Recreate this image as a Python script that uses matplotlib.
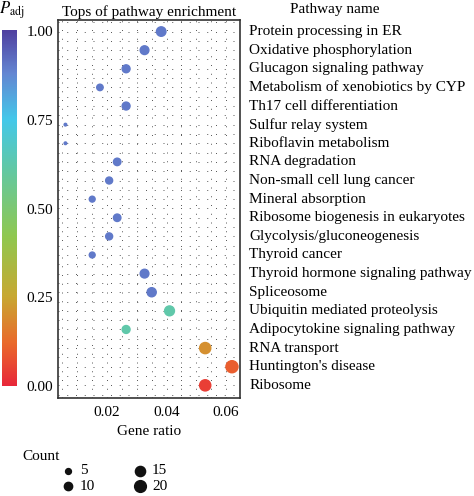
import numpy as np
import matplotlib.pyplot as plt
from matplotlib.colors import LinearSegmentedColormap

plt.rcParams['font.family'] = ['Liberation Serif', 'DejaVu Serif']
plt.rcParams['mathtext.fontset'] = 'stix'

# data, top to bottom
pathways = ['Protein processing in ER', 'Oxidative phosphorylation', 'Glucagon signaling pathway',
            'Metabolism of xenobiotics by CYP', 'Th17 cell differentiation', 'Sulfur relay system',
            'Riboflavin metabolism', 'RNA degradation', 'Non-small cell lung cancer',
            'Mineral absorption', 'Ribosome biogenesis in eukaryotes', 'Glycolysis/gluconeogenesis',
            'Thyroid cancer', 'Thyroid hormone signaling pathway', 'Spliceosome',
            'Ubiquitin mediated proteolysis', 'Adipocytokine signaling pathway', 'RNA transport',
            "Huntington's disease", 'Ribosome']
gene_ratio = [0.0382, 0.0326, 0.0264, 0.0176, 0.0264, 0.0060, 0.0060, 0.0234, 0.0207, 0.0150,
              0.0234, 0.0207, 0.0150, 0.0326, 0.0350, 0.0410, 0.0264, 0.0530, 0.0620, 0.0530]
counts = [13, 11, 9, 6, 9, 1, 1, 8, 7, 5, 8, 7, 5, 11, 12, 14, 9, 18, 21, 18]
padj = [0.90, 0.90, 0.90, 0.90, 0.90, 0.90, 0.90, 0.90, 0.90, 0.90,
        0.90, 0.90, 0.90, 0.90, 0.90, 0.62, 0.62, 0.20, 0.10, 0.04]

cmap = LinearSegmentedColormap.from_list('padj', [
    (0.0, '#e8283a'), (0.12, '#ea6a2c'), (0.25, '#c8a832'), (0.42, '#90c850'),
    (0.6, '#64c8a0'), (0.75, '#44c8ea'), (0.88, '#6486d2'), (1.0, '#5040a0')])

W, H = 474, 496
fig = plt.figure(figsize=(W / 100, H / 100), dpi=100)

n = len(pathways)
ypos = np.arange(n)[::-1]

ax = fig.add_axes([58 / W, 98 / H, 182 / W, 378 / H])
ax.set_xlim(0.0035, 0.0647)
ax.set_ylim(-0.68, n - 1 + 0.62)
for xv in np.arange(0.005, 0.065, 0.005):
    ax.axvline(xv, color='#555555', lw=0.7, ls=(0, (1, 8)), zorder=0)
for yv in np.arange(-0.5, n, 0.5):
    ax.axhline(yv, color='#555555', lw=0.7, ls=(0, (1, 8)), zorder=0)
ax.scatter(gene_ratio, ypos, s=np.array(counts) * 3.6, c=padj, cmap=cmap, vmin=0, vmax=1, zorder=3)
ax.set_xticks([0.02, 0.04, 0.06])
ax.set_xticklabels(['0.02', '0.04', '0.06'], fontsize=11)
ax.tick_params(axis='x', length=0, pad=6)
ax.set_yticks([])
ax.set_xlabel('Gene ratio', fontsize=11)
ax.set_title('Tops of pathway enrichment', fontsize=11, pad=3)
for sp in ax.spines.values():
    sp.set_linewidth(1.2)
    sp.set_color('#333333')

for y, name in zip(ypos, pathways):
    ax.text(1.05, y, name, transform=ax.get_yaxis_transform(), fontsize=11, va='center', ha='left')
fig.text(335 / W, 1 - 9 / H, 'Pathway name', fontsize=11, ha='center', va='center')

# colour bar
cax = fig.add_axes([2 / W, 101 / H, 15 / W, 375 / H])
grad = np.linspace(0, 1, 256).reshape(-1, 1)
cax.imshow(grad, aspect='auto', cmap=cmap, origin='lower', extent=[0, 1, 0, 1])
cax.set_xlim(0, 1)
cax.set_ylim(-9 / 355, 1 + 11 / 355)
cax.set_xticks([])
cax.yaxis.tick_right()
cax.set_yticks([0, 0.25, 0.5, 0.75, 1.0])
cax.set_yticklabels(['0.00', '0.25', '0.50', '0.75', '1.00'], fontsize=11)
cax.tick_params(axis='y', length=0, pad=7)
for sp in cax.spines.values():
    sp.set_visible(False)
fig.text(12 / W, 1 - 10 / H, r'$P_{\mathrm{adj}}$', fontsize=12, ha='center', va='center')

# size legend
fig.text(22 / W, 1 - 456 / H, 'Count', fontsize=11, va='center')
leg = [(5, 68, 471), (10, 68, 486), (15, 140, 471), (20, 140, 486)]
for c, px, py in leg:
    fig.add_artist(plt.Line2D([px / W], [1 - py / H], marker='o', ms=np.sqrt(c * 3.6),
                              color='#111111', ls=''))
    fig.text((px + 12) / W, 1 - py / H, str(c), fontsize=11, va='center')

plt.savefig('out.png', dpi=100)
